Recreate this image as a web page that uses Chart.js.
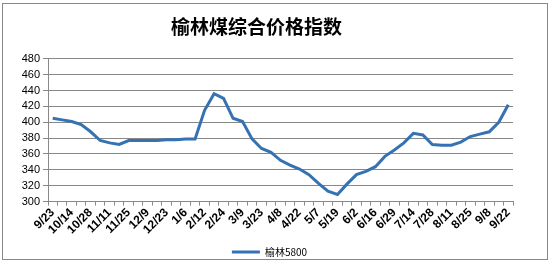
<!DOCTYPE html>
<html>
<head>
<meta charset="utf-8">
<script src="https://cdn.jsdelivr.net/npm/chart.js@4"></script>
<style>
  html, body { margin: 0; padding: 0; background: #fff; }
  #wrap { position: relative; width: 554px; height: 264px; }
  #frame { position: absolute; left: 2px; top: 3px; width: 544px; height: 255px; border: 1px solid #888; box-sizing: content-box; pointer-events: none; }
  canvas { position: absolute; left: 0; top: 0; }
</style>
</head>
<body>
<div id="wrap">
  <canvas id="chart" width="554" height="264"></canvas>
  <div id="frame"></div>
</div>
<script>
// --- DATA ---
const title = '榆林煤综合价格指数';
const seriesName = '榆林5800';

// labels shown under every second category
const shownLabels = [
  '9/23', '10/14', '10/28', '11/11', '11/25', '12/9', '12/23', '1/6',
  '2/12', '2/24', '3/9', '3/23', '4/8', '4/22', '5/7', '5/19',
  '6/2', '6/16', '6/29', '7/14', '7/28', '8/11', '8/25', '9/8', '9/22'
];

const values = [
  405, 403, 401, 397, 388, 377, 374, 372, 377, 377,
  377, 377, 378, 378, 379, 379, 415, 436, 430, 405,
  401, 379, 367, 362, 352, 346, 341, 334, 323, 313,
  309, 322, 334, 338, 344, 357, 365, 374, 386, 384,
  372, 371, 371, 375, 382, 385, 388, 400, 422
];

const yTicks = [300, 320, 340, 360, 380, 400, 420, 440, 460, 480];

// --- CHART ---
const labels = [];
for (let i = 0; i < values.length; i++) {
  labels.push(i % 2 === 0 ? shownLabels[i / 2] : '');
}

const gray = '#888';
const ctx = document.getElementById('chart').getContext('2d');

// nudge the legend to where the original sits (centred on the whole frame)
const legendShift = {
  id: 'legendShift',
  afterLayout(c) {
    c.legend.left += 13; c.legend.right += 13;
    c.legend.top += 4; c.legend.bottom += 4;
  }
};

new Chart(ctx, {
  type: 'line',
  data: {
    labels: labels,
    datasets: [{
      label: seriesName,
      data: values,
      borderColor: '#3572b4',
      backgroundColor: '#3572b4',
      borderWidth: 3,
      pointRadius: 0,
      tension: 0,
      fill: false
    }]
  },
  options: {
    responsive: false,
    animation: false,
    layout: { padding: { left: 0, right: 41, top: 6, bottom: 1 } },
    plugins: {
      title: {
        display: true,
        text: title,
        color: '#000',
        font: { family: '"Noto Sans CJK SC"', size: 19, weight: 'bold' },
        padding: { top: 9, bottom: 21 }
      },
      legend: {
        position: 'bottom',
        labels: {
          color: '#000',
          font: { family: '"Noto Sans CJK SC", Arial', size: 10 },
          boxWidth: 28,
          boxHeight: 3,
          padding: 6,
          generateLabels: chart => [{
            text: seriesName,
            fillStyle: '#3572b4',
            strokeStyle: '#3572b4',
            lineWidth: 0,
            datasetIndex: 0
          }]
        }
      },
      tooltip: { enabled: false }
    },
    scales: {
      x: {
        offset: true,
        grid: { drawOnChartArea: false, offset: true, color: gray, tickLength: 4 },
        border: { color: gray },
        ticks: {
          autoSkip: false,
          minRotation: 45,
          maxRotation: 45,
          padding: 0,
          color: '#000',
          font: { family: '"Liberation Sans", Arial', size: 12, weight: 'bold' }
        }
      },
      y: {
        min: 300,
        max: 480,
        afterFit: s => { s.width = 48; },
        afterBuildTicks: s => { s.ticks = yTicks.map(v => ({ value: v })); },
        grid: { color: gray, tickLength: 5 },
        border: { color: gray },
        ticks: {
          autoSkip: false,
          padding: 3,
          color: '#000',
          font: { family: '"Liberation Sans", Arial', size: 11 }
        }
      }
    }
  },
  plugins: [legendShift]
});
</script>
</body>
</html>
